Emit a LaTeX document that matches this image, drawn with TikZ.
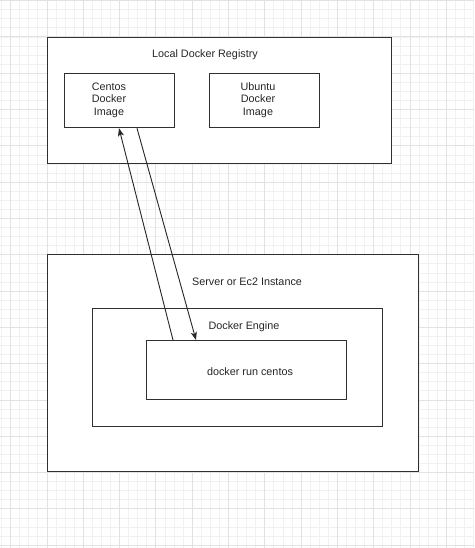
\documentclass[tikz,border=0pt]{standalone}
\usepackage{fontspec}
\setmainfont{Liberation Sans}
\usetikzlibrary{arrows.meta,calc}
\definecolor{gridmajor}{HTML}{E2E2E2}
\definecolor{gridminor}{HTML}{F1F1F1}
\definecolor{edge}{HTML}{303030}
\tikzset{
  box_n/.style = {draw=edge, line width=1.2pt, fill=white, inner sep=0pt,
    anchor=north west},% rectangle, top left corner at the coordinate
  lbl/.style = {inner sep=0pt, align=center, text=black!85,
    font=\fontsize{10.8}{12.5}\selectfont},% text of a box
  link/.style = {draw=black!85, line width=0.9pt,
    -{Stealth[length=8pt, width=6pt, inset=2pt]}},% connector
  grid_mj/.style = {draw=gridmajor, line width=0.6pt},
  grid_mn/.style = {draw=gridminor, line width=0.5pt}
}

\begin{document}
\begin{tikzpicture}[x=1pt, y=-1pt]
	\useasboundingbox (0,0) rectangle (474,548);
	\fill[white] (0,0) rectangle (474,548);
	% background grid
	\foreach \i in {-1,...,51}
		\draw[grid_mn] ({10.5+9.075*\i},0) -- ({10.5+9.075*\i},548);
	\foreach \i in {0,...,60}
		\draw[grid_mn] (0,{0.5+9.075*\i}) -- (474,{0.5+9.075*\i});
	\foreach \i in {0,...,12}
		\draw[grid_mj] ({10.5+36.3*\i},0) -- ({10.5+36.3*\i},548);
	\foreach \i in {0,...,15}
		\draw[grid_mj] (0,{0.5+36.3*\i}) -- (474,{0.5+36.3*\i});
	% registry
	\node [box_n, minimum width=344pt, minimum height=126pt] (registry) at (47,37) {};
	\node [lbl] (registry_t) at (205,55) {Local Docker Registry};
	\node [box_n, minimum width=110pt, minimum height=54pt] (centos) at (64,73) {};
	\node [lbl] (centos_t) at (109,100) {Centos\\Docker\\Image};
	\node [box_n, minimum width=110pt, minimum height=54pt] (ubuntu) at (209,73) {};
	\node [lbl] (ubuntu_t) at (258,100) {Ubuntu\\Docker\\Image};
	% server
	\node [box_n, minimum width=371pt, minimum height=217pt] (server) at (47,254) {};
	\node [lbl] (server_t) at (247,282) {Server or Ec2 Instance};
	\node [box_n, minimum width=290pt, minimum height=118pt] (engine) at (92,308) {};
	\node [lbl] (engine_t) at (244,327) {Docker Engine};
	\node [box_n, minimum width=200pt, minimum height=59pt] (run) at (146,340) {};
	\node [lbl] (run_t) at (250,372) {docker run centos};
	% pull and run
	\draw [link] ($(run.north west)+(27,0)$) -- ($(centos.south west)+(55,0)$);
	\draw [link] ($(centos.south west)+(73,0)$) -- ($(run.north west)+(50,0)$);
\end{tikzpicture}
\end{document}
